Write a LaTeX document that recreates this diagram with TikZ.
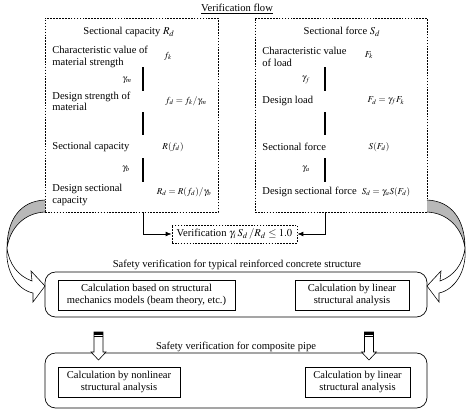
\documentclass[tikz,border=0pt]{standalone}
\usepackage{mathptmx}
\usepackage{fontspec}
\setmainfont{Liberation Serif}
\usetikzlibrary{positioning,arrows.meta,fit}
\tikzset{
  txt/.style={font=\fontsize{9}{9.6}\selectfont,inner sep=1pt},
  lbl/.style={txt,anchor=west,align=left},
  sym/.style={font=\fontsize{7.8}{9}\selectfont,inner sep=1pt},
  dotbox/.style={draw,dash pattern=on 1.4pt off 1.1pt,line width=0.5pt,inner sep=0pt},
  grp/.style={draw,rounded corners=9pt,line width=0.6pt,inner sep=0pt},
  calcbox/.style={draw,txt,align=center,line width=0.6pt,minimum height=0.9cm},
  bar/.style={line width=1.3pt},
  flow/.style={-{Latex[length=1.8mm,width=1.4mm]},line width=0.6pt},
  bendarrow/.pic={
    \fill[black!28] (45,200) .. controls (20,201) and (7,220) .. (7,248)
      .. controls (10,228) and (24,213) .. (45,212) -- cycle;
    \draw[line width=0.5pt] (45,200) .. controls (20,201) and (7,220) .. (7,248)
      .. controls (10,228) and (24,213) .. (45,212);
    \draw[line width=0.5pt,fill=white] (7,248) .. controls (9,264) and (18,276) .. (32,281)
      -- (31,271) -- (45,286) -- (33,302) -- (33,293)
      .. controls (18,290) and (5,272) .. (7,248) -- cycle;
  },
  downarr/.pic={
    \draw[line width=0.5pt,fill=white] (-4.5,0) -- (4.5,0) -- (4.5,20) -- (7.5,20)
      -- (0,28) -- (-7.5,20) -- (-4.5,20) -- cycle;
    \fill (-4.5,0) rectangle (4.5,2.5);
    \draw[line width=0.5pt] (-4.5,4.5) -- (4.5,4.5);
  },
}
\begin{document}
\begin{tikzpicture}[x=0.03cm,y=-0.03cm]
  \useasboundingbox (0,0) rectangle (474,417);
  \node[txt] (vtitle) at (237,9) {\underline{Verification flow}};
  % sectional capacity side
  \node[dotbox,fit={(45,18) (218,212)}] (capbox) {};
  \node[txt] (capttl) at (129,32) {Sectional capacity $R_d$};
  \node[lbl] (chark) at (51,57) {Characteristic value of\\material strength};
  \node[sym] (fk) at (168,56) {$f_k$};
  \node[sym] (gm) at (127,80) {$\gamma_m$};
  \node[lbl] (desstr) at (51,101) {Design strength of\\material};
  \node[sym] (fd) at (186,101) {$f_d = f_k/\gamma_m$};
  \node[lbl] (seccap) at (51,147) {Sectional capacity};
  \node[sym] (Rf) at (173,147) {$R(f_d)$};
  \node[sym] (gb) at (126,169) {$\gamma_b$};
  \node[lbl] (desseccap) at (51,195) {Design sectional\\capacity};
  \node[sym] (Rd) at (184,192) {$R_d = R(f_d)/\gamma_b$};
  % sectional force side
  \node[dotbox,fit={(255,18) (427,212)}] (forbox) {};
  \node[txt] (forttl) at (342,32) {Sectional force $S_d$};
  \node[lbl] (charl) at (261,57) {Characteristic value\\of load};
  \node[sym] (Fk) at (369,55) {$F_k$};
  \node[sym] (gf) at (306,80) {$\gamma_f$};
  \node[lbl] (desload) at (261,101) {Design load};
  \node[sym] (Fd) at (386,101) {$F_d = \gamma_f F_k$};
  \node[lbl] (secfor) at (261,147) {Sectional force};
  \node[sym] (SF) at (379,147) {$S(F_d)$};
  \node[sym] (ga) at (306,169) {$\gamma_a$};
  \node[lbl] (dessecfor) at (261,192) {Design sectional force};
  \node[sym] (Sd) at (386,192) {$S_d = \gamma_a S(F_d)$};
  \coordinate (barL) at (143,0);
  \coordinate (barR) at (325,0);
  \foreach \ya/\yb in {67/91,112/135,158/182} {
    \draw[bar] (143,\ya) -- (143,\yb);
    \draw[bar] (325,\ya) -- (325,\yb);
  }
  % verification
  \node[dotbox,txt,minimum width=3.75cm,minimum height=0.54cm] (verif) at (234.5,234)
    {Verification $\gamma_i\,S_d\,/R_d \le 1.0$};
  \draw[flow] (capbox.south -| barL) |- (verif.west);
  \draw[flow] (forbox.south -| barR) |- (verif.east);
  % curved arrows
  \pic at (0,0) {bendarrow};
  \pic[xscale=-1] at (472,0) {bendarrow};
  % typical RC structure
  \node[txt] (rcttl) at (237,265) {Safety verification for typical reinforced concrete structure};
  \node[grp,fit={(45,272) (427,317)}] (rcbox) {};
  \node[calcbox,minimum width=5.31cm] (beam) at (146.5,295)
    {Calculation based on structural\\mechanics models (beam theory, etc.)};
  \node[calcbox,minimum width=3.42cm] (linrc) at (352,295)
    {Calculation by linear\\structural analysis};
  % composite pipe
  \node[txt] (cpttl) at (236,347) {Safety verification for composite pipe};
  \node[grp,fit={(45,353) (427,408)}] (cpbox) {};
  \node[calcbox,minimum width=3.66cm] (nonlin) at (119,382)
    {Calculation by nonlinear\\structural analysis};
  \node[calcbox,minimum width=3.15cm] (lincp) at (357.5,382)
    {Calculation by linear\\structural analysis};
  \pic at (98.5,332) {downarr};
  \pic at (369,332) {downarr};
\end{tikzpicture}
\end{document}
